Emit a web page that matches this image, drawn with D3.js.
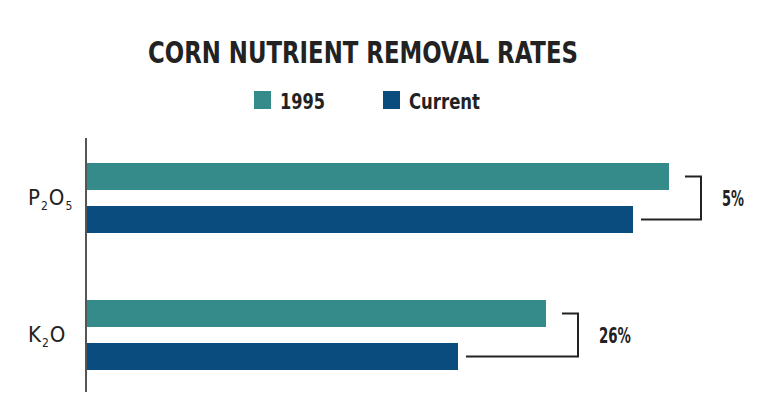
<!DOCTYPE html>
<html>
<head>
<meta charset="utf-8">
<script src="https://cdn.jsdelivr.net/npm/d3@7"></script>
<style>
  body { margin: 0; background: #fff; }
  svg { display: block; }
  text { font-family: "DejaVu Sans", sans-serif; font-stretch: condensed; fill: #222; }
</style>
</head>
<body>
<svg width="770" height="400"></svg>
<script>
var nutrients = ["P2O5", "K2O"];
var seriesNames = ["1995", "Current"];
var values1995 = [583, 460];
var valuesCurrent = [547, 372];
var changeLabels = ["5%", "26%"];

var colors = { "1995": "#358a8a", "Current": "#0a4c7e" };

var svg = d3.select("svg"),
    margin = {top: 138, right: 40, bottom: 8, left: 86},
    width = +svg.attr("width") - margin.left - margin.right,
    height = +svg.attr("height") - margin.top - margin.bottom,
    g = svg.append("g").attr("transform", "translate(" + margin.left + "," + margin.top + ")");

var x = d3.scaleLinear().domain([0, 644]).range([0, width]);

var y0 = d3.scaleBand().domain(nutrients).range([25, 232]).paddingInner(67 / 137).paddingOuter(0);
var y1 = d3.scaleBand().domain(seriesNames).range([0, y0.bandwidth()]).paddingInner(16 / 43).paddingOuter(0);

var data = nutrients.map(function(n, i) {
    return { name: n, values: [
        { key: "1995", value: values1995[i] },
        { key: "Current", value: valuesCurrent[i] }
    ], label: changeLabels[i] };
});

// title
svg.append("text")
    .attr("x", 148).attr("y", 63)
    .attr("font-size", 31).attr("font-weight", "bold")
    .attr("textLength", 430).attr("lengthAdjust", "spacingAndGlyphs")
    .text("CORN NUTRIENT REMOVAL RATES");

// legend
var legendX = [254, 383];
var legendW = [45, 71];
seriesNames.forEach(function(s, i) {
    svg.append("rect").attr("x", legendX[i]).attr("y", 91)
        .attr("width", 17).attr("height", 18).attr("fill", colors[s]);
    svg.append("text").attr("x", legendX[i] + 26).attr("y", 109)
        .attr("font-size", 22).attr("font-weight", "bold")
        .attr("textLength", legendW[i]).attr("lengthAdjust", "spacingAndGlyphs")
        .text(s);
});

var groups = g.selectAll(".group").data(data).enter().append("g")
    .attr("transform", function(d) { return "translate(0," + y0(d.name) + ")"; });

groups.selectAll("rect").data(function(d) { return d.values; }).enter().append("rect")
    .attr("x", 0)
    .attr("y", function(d) { return y1(d.key); })
    .attr("width", function(d) { return x(d.value); })
    .attr("height", y1.bandwidth())
    .attr("fill", function(d) { return colors[d.key]; });

// brackets
var labelW = [22, 32];
groups.each(function(d, i) {
    var gg = d3.select(this);
    var e1 = x(d.values[0].value), e2 = x(d.values[1].value);
    var ya = y1("1995") + y1.bandwidth() / 2,
        yb = y1("Current") + y1.bandwidth() / 2;
    var bx = e1 + 32;
    gg.append("path")
        .attr("d", "M" + (e1 + 16) + "," + ya + "H" + bx + "V" + yb + "H" + (e2 + 8))
        .attr("fill", "none").attr("stroke", "#222").attr("stroke-width", 2);
    gg.append("text")
        .attr("x", bx + 21).attr("y", (ya + yb) / 2 + 8)
        .attr("font-size", 21).attr("font-weight", "bold")
        .attr("textLength", labelW[i]).attr("lengthAdjust", "spacingAndGlyphs")
        .text(d.label);
});

// category labels with subscripts
var labelParts = {
    "P2O5": [["P", 0], ["2", 1], ["O", 0], ["5", 1]],
    "K2O": [["K", 0], ["2", 1], ["O", 0]]
};
groups.append("text")
    .attr("x", -59)
    .attr("y", y0.bandwidth() / 2 + 7)
    .attr("font-size", 22)
    .each(function(d) {
        var t = d3.select(this), low = false;
        labelParts[d.name].forEach(function(p) {
            var dy = 0;
            if (p[1] && !low) { dy = 5; low = true; }
            else if (!p[1] && low) { dy = -5; low = false; }
            t.append("tspan")
                .attr("font-size", p[1] ? 12 : 22)
                .attr("dy", dy || null)
                .attr("dx", 1)
                .text(p[0]);
        });
    });

// axis line
g.append("line")
    .attr("x1", 0).attr("x2", 0)
    .attr("y1", 0).attr("y2", height)
    .attr("stroke", "#555").attr("stroke-width", 2);
</script>
</body>
</html>
